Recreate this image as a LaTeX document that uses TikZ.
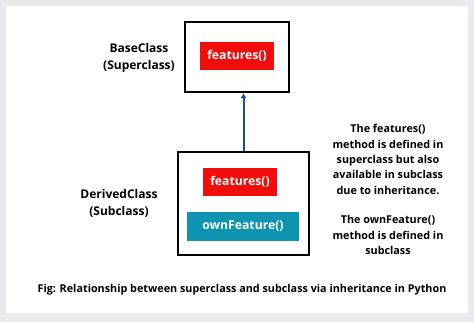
\documentclass[tikz,border=0pt]{standalone}
\usepackage{fontspec}
\setmainfont{Open Sans}
\usetikzlibrary{positioning,arrows.meta}
\definecolor{methodred}{HTML}{F20D0D}
\definecolor{methodteal}{HTML}{0E94B0}
\definecolor{inheritblue}{HTML}{1F4F8F}
\definecolor{framegrey}{HTML}{E9E9EE}

\begin{document}
\begin{tikzpicture}[x=1pt, y=-1pt,
  every node/.style={font=\bfseries\fontsize{10.8}{15.3}\selectfont},
  classbox/.style={draw, line width=2.2pt, inner sep=0pt},
  method/.style={text=white, inner sep=0pt, font=\bfseries\fontsize{12.2}{14}\selectfont},
  redmethod/.style={method, fill=methodred, minimum width=74pt, minimum height=28pt},
  tealmethod/.style={method, fill=methodteal, minimum width=112pt, minimum height=29pt},
  label/.style={align=center},
  classlabel/.style={label, font=\bfseries\fontsize{12}{17}\selectfont},
  inherit/.style={draw=inheritblue, line width=2pt, -{Latex[length=5pt,width=6pt]}}]
  % frame
  \fill[framegrey] (0,0) rectangle (474,322);
  \fill[white] (6,6) rectangle (468,313);
  % base class
  \node[classbox, minimum width=104pt, minimum height=70pt] (base) at (237,57) {};
  \node[redmethod] (basefeat) at (237,56) {features()};
  \node[classlabel] (baselbl) at (139,57.5) {BaseClass\\(Superclass)};
  % derived class
  \node[classbox, minimum width=131pt, minimum height=103pt] (derived) at (243.5,203.5) {};
  \node[redmethod] (derivedfeat) at (240,182) {features()};
  \node[tealmethod] (ownfeat) at (243,226.5) {ownFeature()};
  \node[classlabel] (derivedlbl) at (119,203.5) {DerivedClass\\(Subclass)};
  % inheritance arrow
  \draw[inherit] (derived.north) -- (derived.north |- base.south);
  % notes
  \node[label] (note1) at (388,159.5)
    {The features()\\method is defined in\\superclass but also\\available in subclass\\due to inheritance.};
  \node[label] (note2) at (388,235)
    {The ownFeature()\\method is defined in\\subclass};
  \node (caption) at (242,290)
    {Fig: Relationship between superclass and subclass via inheritance in Python};
\end{tikzpicture}
\end{document}
